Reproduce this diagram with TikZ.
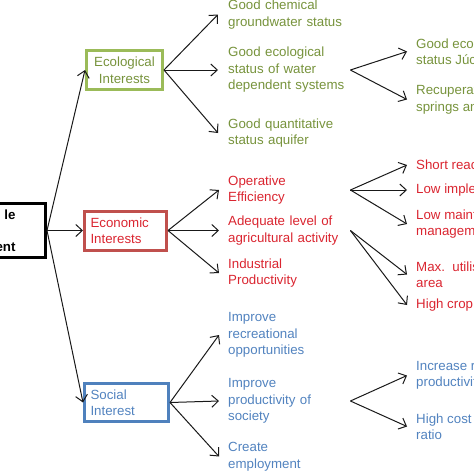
\documentclass[tikz,border=0pt]{standalone}
\usepackage{fontspec}
\setmainfont{Liberation Sans}
\usepackage{tikz}
\usetikzlibrary{arrows.meta}
\definecolor{ecoline}{HTML}{9BBB59}
\definecolor{ecotext}{HTML}{77933C}
\definecolor{econline}{HTML}{C0504D}
\definecolor{econtext}{HTML}{DA2530}
\definecolor{socline}{HTML}{4F81BD}
\definecolor{soctext}{HTML}{5283BF}
\tikzset{
    box/.style={draw, line width=3pt, inner xsep=6pt, inner ysep=0pt, minimum height=39pt}, % 三个分类方框
    item/.style={anchor=west, inner sep=0pt, text width=122pt, align=left}, % 中间一列的文字
    leaf/.style={anchor=west, inner sep=0pt, align=left}, % 右边一列的文字
    link/.style={draw=black!90, line width=1pt, -{Straight Barb[length=6.5pt, width=12pt]}} % 箭头
}

\begin{document}
\begin{tikzpicture}[x=1pt, y=-1pt, font=\fontsize{13.3}{16.5}\selectfont]
            \useasboundingbox (0,0) rectangle (474,474);
            \clip (0,0) rectangle (474,474);

            \node[draw, line width=3pt, anchor=east, minimum height=54pt, inner xsep=30pt, text width=60pt, align=right, font=\fontsize{13.3}{16}\selectfont\bfseries] (root) at (47,230.5) {le\\[16pt]ent};

            \node[box, draw=ecoline, text=ecotext, text width=64pt, align=center] (eco) at (124.5,70) {Ecological\\Interests};
            \node[box, draw=econline, text=econtext, text width=70pt, align=left] (econ) at (125.5,230.5) {Economic\\Interests};
            \node[box, draw=socline, text=soctext, text width=72pt, align=left, minimum height=38pt] (soc) at (126.5,402.5) {Social\\Interest};

            \node[item, text=ecotext] (gchem) at (228,14.5) {Good chemical\\groundwater status};
            \node[item, text=ecotext] (geco) at (228,70) {Good ecological\\status of water\\dependent systems};
            \node[item, text=ecotext] (gquant) at (228,133) {Good quantitative\\status aquifer};
            \node[item, text=econtext] (opeff) at (228,190) {Operative\\Efficiency};
            \node[item, text=econtext] (adeq) at (228,230.5) {Adequate level of\\agricultural activity};
            \node[item, text=econtext] (indus) at (228,273) {Industrial\\Productivity};
            \node[item, text=soctext] (recr) at (228,335) {Improve\\recreational\\opportunities};
            \node[item, text=soctext] (prodsoc) at (228,401) {Improve\\productivity of\\society};
            \node[item, text=soctext] (employ) at (228,456.5) {Create\\employment};

            \node[leaf, text=ecotext] (jucar) at (416,51.5) {Good ecological\\status Júcar};
            \node[leaf, text=ecotext] (springs) at (416,99.5) {Recuperation\\springs and};
            \node[leaf, text=econtext] (shortr) at (416,165) {Short reaction};
            \node[leaf, text=econtext] (lowimpl) at (416,190) {Low implementation};
            \node[leaf, text=econtext] (lowmaint) at (416,224) {Low maintenance\\management};
            \node[leaf, text=econtext] (maxutil) at (416,274.5) {Max.\ \ utilisation\\area};
            \node[leaf, text=econtext] (highcrop) at (416,305) {High crop};
            \node[leaf, text=soctext] (incr) at (416,375.5) {Increase ru\\productivity};
            \node[leaf, text=soctext] (highcost) at (416,426.5) {High cost\\ratio};

            \foreach \b in {eco, econ, soc} {\draw[link] (root.east) -- (\b.west);}
            \foreach \c in {gchem, geco, gquant} {\draw[link] (eco.east) -- ([xshift=-10pt]\c.west);}
            \foreach \c in {opeff, adeq, indus} {\draw[link] (econ.east) -- ([xshift=-9pt]\c.west);}
            \foreach \c in {recr, prodsoc, employ} {\draw[link] (soc.east) -- ([xshift=-9pt]\c.west);}

            \foreach \a/\c in {geco/jucar, geco/springs, opeff/shortr, opeff/lowimpl, opeff/lowmaint, adeq/maxutil, adeq/highcrop, prodsoc/incr, prodsoc/highcost} {\draw[link] (\a.east) -- ([xshift=-9pt]\c.west);}
        \end{tikzpicture}
\end{document}
